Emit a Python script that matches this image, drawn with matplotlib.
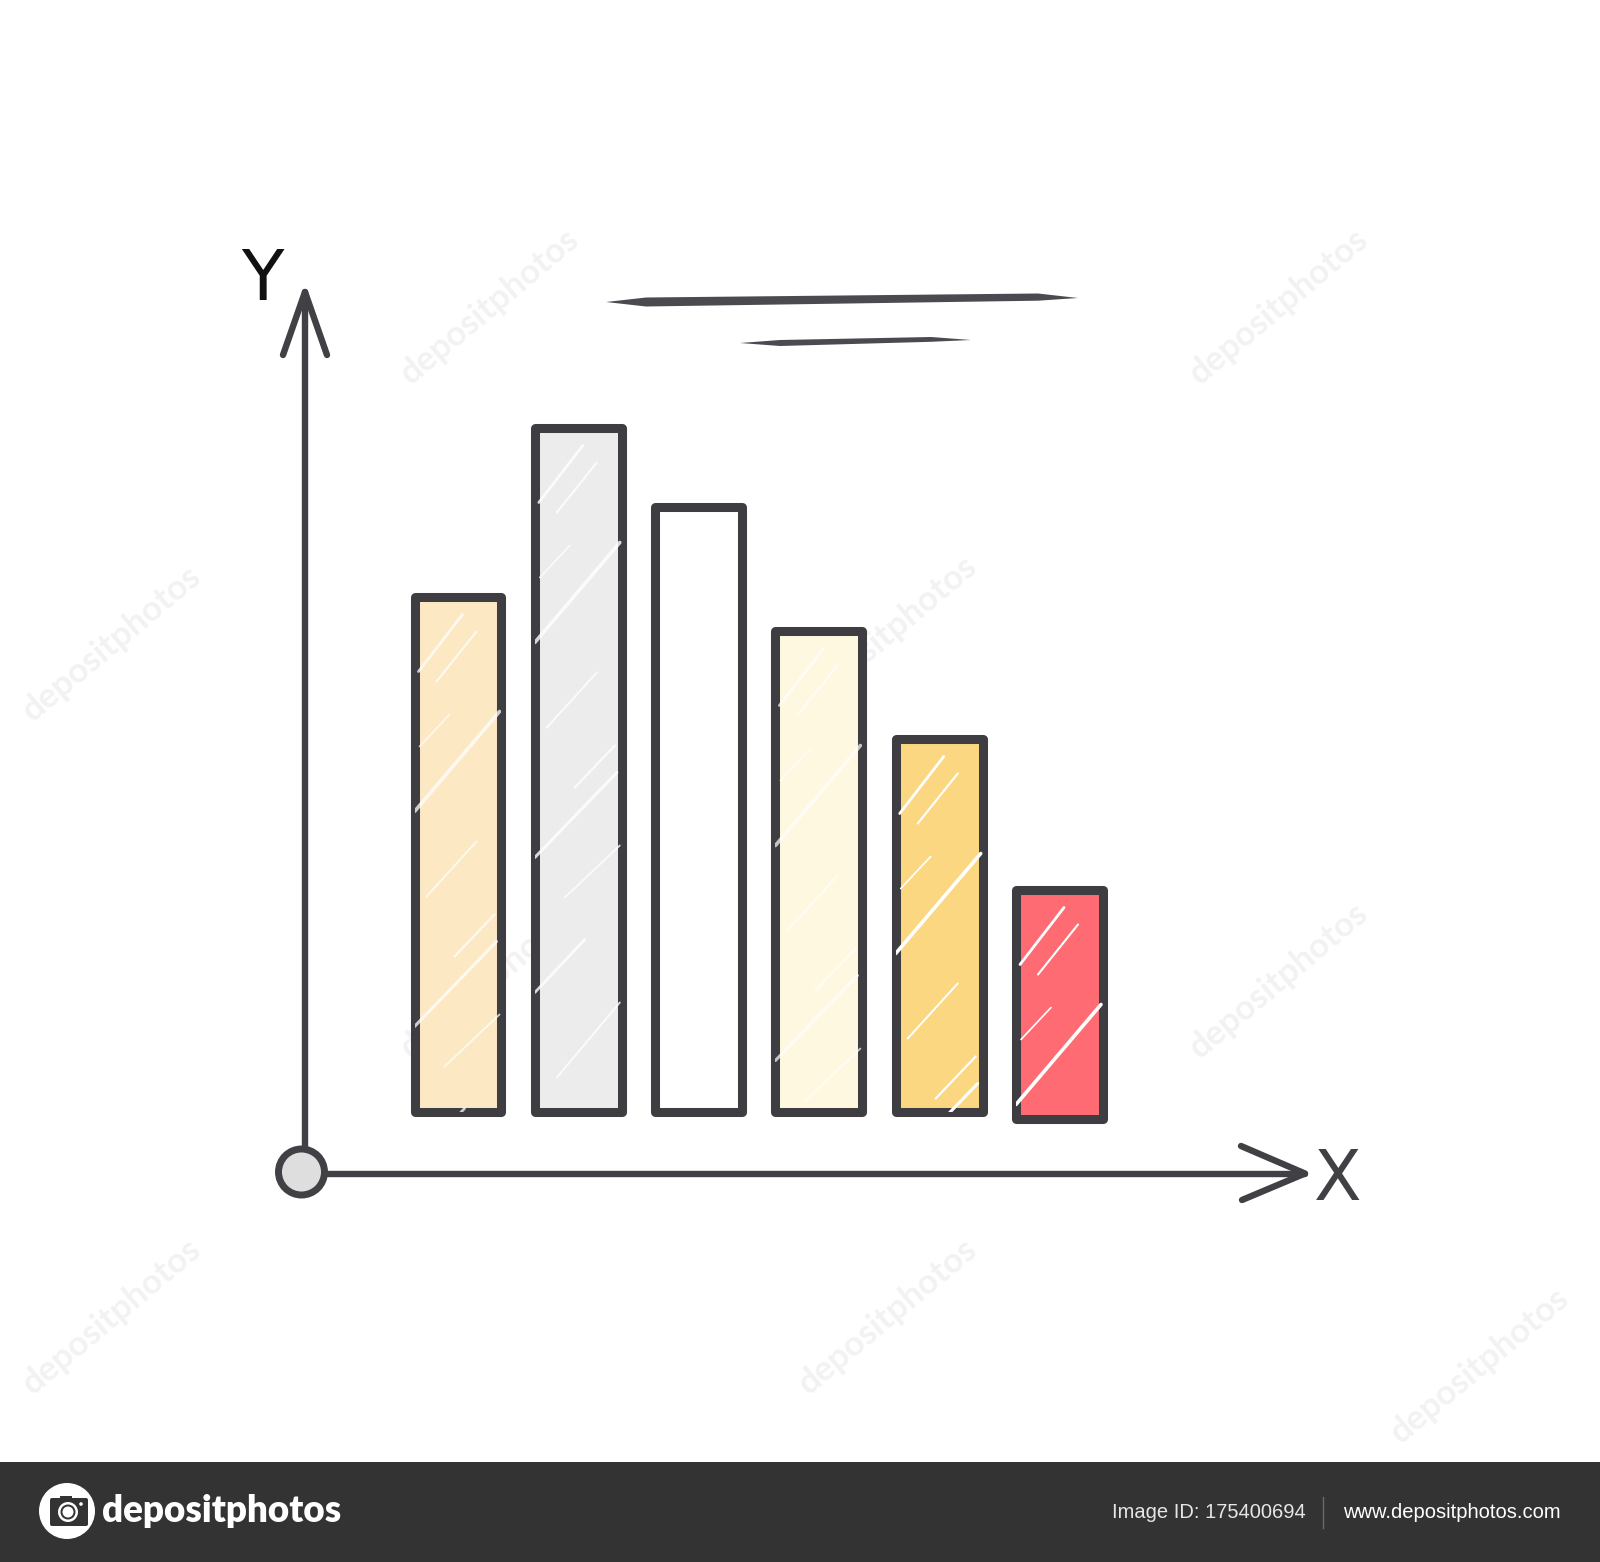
import numpy as np
import matplotlib.pyplot as plt
from matplotlib.patches import Circle, Rectangle, FancyBboxPatch, Polygon

W, H = 1600, 1562

# bar data (arbitrary units)
categories = ['1', '2', '3', '4', '5', '6']
values = [5.15, 6.84, 6.05, 4.81, 3.73, 2.29]
bottoms = [0, 0, 0, 0, 0, -0.07]
colors = ['#fde8c4', '#ececec', '#ffffff', '#fef8e0', '#fcd782', '#fe6b73']
streak_alpha = [0.75, 0.8, 0.0, 0.7, 1.0, 1.0]

edge = '#3d3d42'
axis_col = '#404045'

fig = plt.figure(figsize=(16, 15.62), dpi=100)

# pixel overlay for the drawn axes, scribbles and banner
bg = fig.add_axes([0, 0, 1, 1])
bg.set_xlim(0, W)
bg.set_ylim(H, 0)
bg.axis('off')

# chart axes: origin at px (305, 1173.5), arrow tips at x=1305 / y=292
px_unit_x, px_unit_y = 120.3, 100.0
ax = fig.add_axes([305 / W, (H - 1173.5) / H, 1000 / W, (1173.5 - 292) / H])
ax.set_xlim((305 - 458) / px_unit_x, (1305 - 458) / px_unit_x)
ax.set_ylim((1111.5 - 1173.5) / px_unit_y, (1111.5 - 292) / px_unit_y)
ax.axis('off')
ax.patch.set_alpha(0)

x = np.arange(len(categories))
bars = ax.bar(x, values, width=0.723, bottom=bottoms, color=colors,
              edgecolor=edge, linewidth=6.5, zorder=3)
for b in bars:
    b.set_joinstyle('round')

# white chalk streaks inside the bars (px offsets from the bar's top-left)
pattern = [(4, 75, 48, 18, 2.0), (22, 85, 62, 35, 1.5), (0, 215, 85, 115, 2.6),
           (12, 300, 62, 245, 1.4), (0, 430, 82, 345, 2.2), (30, 470, 85, 418, 1.3),
           (0, 565, 50, 512, 2.0), (22, 650, 85, 575, 1.4), (5, 150, 35, 118, 1.2),
           (40, 360, 80, 318, 1.6)]
for b, a in zip(bars, streak_alpha):
    if a == 0:
        continue
    left = b.get_x()
    top = b.get_y() + b.get_height()
    for sx0, sy0, sx1, sy1, lw in pattern:
        xs = [left + sx0 / px_unit_x, left + sx1 / px_unit_x]
        ys = [top - sy0 / px_unit_y, top - sy1 / px_unit_y]
        ln, = ax.plot(xs, ys, color='white', lw=lw, alpha=a,
                      solid_capstyle='round', zorder=4)
        ln.set_clip_path(b)

# drawn axes with open arrow heads
bg.plot([305, 305], [1172, 292], color=axis_col, lw=4.6, solid_capstyle='round')
bg.plot([283, 305, 327], [355, 292, 355], color=axis_col, lw=4.6,
        solid_capstyle='round', solid_joinstyle='round')
bg.plot([301, 1305], [1173.5, 1173.5], color=axis_col, lw=4.6, solid_capstyle='round')
bg.plot([1241, 1305, 1242], [1146, 1173.5, 1200], color=axis_col, lw=4.6,
        solid_capstyle='round', solid_joinstyle='round')
bg.add_patch(Circle((301.5, 1172), 23, facecolor='#dedede', edgecolor=axis_col,
                    lw=5, zorder=5))

lab_font = ['Liberation Sans Narrow', 'DejaVu Sans Condensed', 'DejaVu Sans']
bg.text(262, 280, 'Y', fontsize=50, color='#111111', family=lab_font,
        ha='center', va='center')
bg.text(1338, 1181, 'X', fontsize=50, color=axis_col, family=lab_font,
        ha='center', va='center')

# title placeholder scribbles
def scribble(x0, x1, y0, y1, th):
    t = th / 2
    pts = [(x0, y0), (x0 + 40, y0 - t), (x1 - 40, y1 - t), (x1, y1),
           (x1 - 40, y1 + t * 0.6), (x0 + 40, y0 + t)]
    bg.add_patch(Polygon(pts, closed=True, facecolor='#4a4a50', edgecolor='none'))

scribble(606, 1078, 302, 298, 9)
scribble(740, 971, 343, 340, 6)

# watermark
wm_pos = [(490, 306), (1279, 306), (888, 633), (112, 643), (490, 980),
          (1279, 980), (888, 1316), (112, 1316), (1480, 1365)]
for wx, wy in wm_pos:
    bg.text(wx, wy, 'depositphotos', fontsize=25, color='#d6d6d6', alpha=0.3,
            rotation=40, ha='center', va='center', family='Lato',
            fontweight='bold', zorder=10)

# bottom banner
bg.add_patch(Rectangle((0, 1462), W, 100, facecolor='#333333', edgecolor='none'))
bg.add_patch(Circle((67, 1511), 28, facecolor='white', edgecolor='none'))
bg.add_patch(FancyBboxPatch((52, 1500), 34, 24, boxstyle='round,pad=2',
                            facecolor='#333333', edgecolor='none'))
bg.add_patch(Rectangle((60, 1496), 12, 6, facecolor='#333333', edgecolor='none'))
bg.add_patch(Circle((68, 1512), 10, facecolor='white', edgecolor='none'))
bg.add_patch(Circle((68, 1512), 7.5, facecolor='#333333', edgecolor='none'))
bg.add_patch(Circle((68, 1512), 5.5, facecolor='white', edgecolor='none'))
bg.add_patch(Circle((81, 1504), 1.8, facecolor='white', edgecolor='none'))
bg.text(102, 1511, 'depositphotos', fontsize=26.5, color='white', family='Lato',
        fontweight='heavy', ha='left', va='center')
bg.text(1112, 1512, 'Image ID: 175400694', fontsize=14.5, color='#e6e6e6',
        family='Liberation Sans', ha='left', va='center')
bg.plot([1323, 1323], [1497, 1528], color='#6a6a6a', lw=1)
bg.text(1343, 1512, 'www.depositphotos.com', fontsize=14.5, color='white',
        family='Liberation Sans', ha='left', va='center')

fig.savefig('out.png', dpi=100)
